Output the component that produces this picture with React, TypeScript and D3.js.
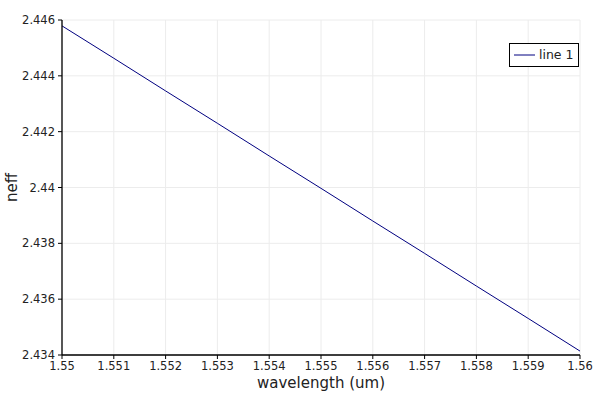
import React from "react";
import * as d3 from "d3";

const wavelength = [1.55, 1.551, 1.552, 1.553, 1.554, 1.555, 1.556, 1.557, 1.558, 1.559, 1.56];
const neff = [2.44579, 2.44463, 2.44346, 2.4423, 2.44113, 2.43997, 2.4388, 2.43764, 2.43647, 2.43531, 2.43414];
const xTicks = [1.55, 1.551, 1.552, 1.553, 1.554, 1.555, 1.556, 1.557, 1.558, 1.559, 1.56];
const yTicks = [2.434, 2.436, 2.438, 2.44, 2.442, 2.444, 2.446];
const seriesName = "line 1";

const W = 600, H = 400;
const m = { left: 62, right: 20, top: 20, bottom: 45 };

export default function App() {
  const x = d3.scaleLinear().domain([1.55, 1.56]).range([m.left, W - m.right]);
  const y = d3.scaleLinear().domain([2.434, 2.446]).range([H - m.bottom, m.top]);
  const line = d3.line<number>().x((_, i) => x(wavelength[i])).y((d) => y(d));
  const font = "DejaVu Sans, Verdana, sans-serif";
  const fmt = (v: number) => String(+v.toFixed(4));
  return (
    <svg width={W} height={H} style={{ position: "absolute", left: 0, top: 0, background: "#fff" }} fontFamily={font}>
      {xTicks.map((t) => (
        <line key={"gx" + t} x1={x(t)} x2={x(t)} y1={m.top} y2={H - m.bottom} stroke="#ececec" />
      ))}
      {yTicks.map((t) => (
        <line key={"gy" + t} x1={m.left} x2={W - m.right} y1={y(t)} y2={y(t)} stroke="#ececec" />
      ))}
      <path d={line(neff) || ""} fill="none" stroke="#000080" strokeWidth={1} />
      <line x1={m.left} x2={m.left} y1={m.top} y2={H - m.bottom} stroke="#000" strokeWidth={1.3} />
      <line x1={m.left} x2={W - m.right} y1={H - m.bottom} y2={H - m.bottom} stroke="#000" strokeWidth={1.3} />
      {yTicks.map((t) => (
        <g key={"ty" + t}>
          <line x1={m.left - 4} x2={m.left} y1={y(t)} y2={y(t)} stroke="#000" />
          <text x={m.left - 7} y={y(t)} dy="0.35em" textAnchor="end" fontSize={11.5} fill="#222">{fmt(t)}</text>
        </g>
      ))}
      {xTicks.map((t) => (
        <g key={"tx" + t}>
          <line x1={x(t)} x2={x(t)} y1={H - m.bottom} y2={H - m.bottom + 4} stroke="#000" />
          <text x={x(t)} y={H - m.bottom + 15} textAnchor="middle" fontSize={11.5} fill="#222">{fmt(t)}</text>
        </g>
      ))}
      <text x={(m.left + W - m.right) / 2} y={H - 12} textAnchor="middle" fontSize={15} fill="#222">wavelength (um)</text>
      <text transform={`translate(17,${(m.top + H - m.bottom) / 2}) rotate(-90)`} textAnchor="middle" fontSize={15} fill="#222">neff</text>
      <rect x={509.5} y={43.5} width={69} height={23} fill="#fff" stroke="#000" />
      <line x1={514} x2={535} y1={55} y2={55} stroke="#000080" />
      <text x={539} y={55} dy="0.35em" fontSize={12.5} fill="#222">{seriesName}</text>
    </svg>
  );
}
